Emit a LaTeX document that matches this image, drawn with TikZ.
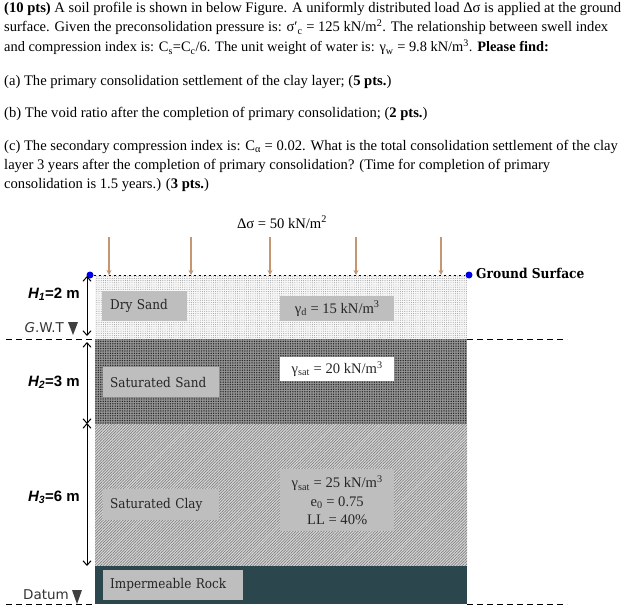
\documentclass[tikz,border=0pt]{standalone}
\usepackage{fontspec}
\usepackage{tikz}
\usetikzlibrary{arrows.meta,patterns.meta}
\setmainfont{Liberation Serif}
\newfontfamily\labelfont{DejaVu Serif Condensed}
\newfontfamily\armfont{Liberation Sans}
\newfontfamily\levelfont{DejaVu Sans}
\definecolor{loadbrown}{RGB}{198,150,112}
\definecolor{rockteal}{RGB}{44,70,77}
\definecolor{boxgray}{RGB}{190,190,190}
\definecolor{surfblue}{RGB}{0,0,230}
\tikzset{
    question/.style={anchor=base west, inner sep=0pt, font=\fontsize{14.6}{17}\selectfont},
    layerbox/.style={anchor=north west, fill=boxgray, inner sep=0pt, text=black!85},
    soilname/.style={layerbox, align=left, font=\labelfont\fontsize{13.4}{16}\selectfont},
    soilprop/.style={layerbox, align=center, font=\fontsize{14.6}{18.2}\selectfont},
    armlabel/.style={anchor=base east, inner sep=0pt, font=\armfont\bfseries\fontsize{15}{17}\selectfont},
    levellabel/.style={anchor=base east, inner sep=0pt, font=\levelfont\fontsize{13.5}{15}\selectfont, text=black!80},
    levelmark/.style={fill=black!75, draw=none},
    levelline/.style={thick, dash pattern=on 6pt off 4pt},
    loadarrow/.style={line width=1.6pt, color=loadbrown, -{Stealth[length=5pt,width=5pt]}},
    dimarrow/.style={line width=1pt, {Straight Barb[length=4.5pt,width=8pt]}-{Straight Barb[length=4.5pt,width=8pt]}},
    surfdot/.style={circle, fill=surfblue, inner sep=0pt, minimum size=7pt}
}
\begin{document}
\begin{tikzpicture}[x=1pt,y=-1pt]
    \useasboundingbox (0,0) rectangle (632,615);

    % Question text
    \node[question] (line1) at (4,13) {\textbf{(10 pts)} A soil profile is shown in below Figure. A uniformly distributed load Δσ is applied at the ground};
    \node[question, font=\fontsize{14.55}{17}\selectfont] (line2) at (4,32) {surface. Given the preconsolidation pressure is: σ′\textsubscript{c} = 125 kN/m\textsuperscript{2}. The relationship between swell index};
    \node[question, font=\fontsize{14.4}{17}\selectfont] (line3) at (4,52) {and compression index is: C\textsubscript{s}=C\textsubscript{c}/6. The unit weight of water is: γ\textsubscript{w} = 9.8 kN/m\textsuperscript{3}. \textbf{Please find:}};
    \node[question] (parta) at (4,86) {(a) The primary consolidation settlement of the clay layer; (\textbf{5 pts.})};
    \node[question] (partb) at (4,118) {(b) The void ratio after the completion of primary consolidation; (\textbf{2 pts.})};
    \node[question] (partc) at (4,150) {(c) The secondary compression index is: C\textsubscript{α} = 0.02. What is the total consolidation settlement of the clay};
    \node[question] (partc2) at (4,169) {layer 3 years after the completion of primary consolidation? (Time for completion of primary};
    \node[question] (partc3) at (4,189) {consolidation is 1.5 years.) (\textbf{3 pts.})};

    % Soil layers
    \fill[black!3] (95,275) rectangle (467,339);
    \fill[pattern={Dots[distance=2.2pt,radius=0.45pt]}, pattern color=black!45] (95,275) rectangle (467,339);
    \fill[black!42] (95,339) rectangle (467,424);
    \fill[pattern={Dots[distance=2.4pt,radius=0.75pt]}, pattern color=black!85] (95,339) rectangle (467,424);
    \fill[black!15] (95,424) rectangle (467,566);
    \fill[pattern={Lines[angle=45,distance=2pt,line width=0.7pt]}, pattern color=black!50] (95,424) rectangle (467,566);
    \fill[rockteal] (95,566) rectangle (467,604);

    % Load
    \node[anchor=base, inner sep=0pt, font=\fontsize{14.6}{17}\selectfont] (load) at (282,228) {Δσ = 50 kN/m\textsuperscript{2}};
    \foreach \px in {109,191,270,356,441}
        \draw[loadarrow] (\px,237) -- (\px,275);

    % Ground surface
    \node[surfdot] (gsleft) at (90,275) {};
    \node[surfdot] (gsright) at (469,275) {};
    \draw[line width=1pt, dash pattern=on 2.5pt off 2.5pt] (gsleft) -- (gsright);
    \node[anchor=base west, inner sep=0pt, font=\labelfont\bfseries\fontsize{13.6}{15}\selectfont] (gslabel) at (476,278) {Ground Surface};

    % Level lines
    \coordinate (gwtleft) at (6,339);
    \coordinate (gwtmid) at (95,339);
    \coordinate (gwtend) at (467,339);
    \coordinate (gwtright) at (567,339);
    \coordinate (datumleft) at (6,604);
    \coordinate (datummid) at (95,604);
    \coordinate (datumend) at (467,604);
    \coordinate (datumright) at (567,604);
    \draw[levelline] (gwtleft) -- (gwtmid);
    \draw[levelline] (gwtend) -- (gwtright);
    \draw[levelline] (datumleft) -- (datummid);
    \draw[levelline] (datumend) -- (datumright);

    % Thickness arrows
    \coordinate (h1top) at (87,276);
    \coordinate (h1bot) at (87,336);
    \coordinate (h2top) at (87,342);
    \coordinate (h2bot) at (87,424);
    \coordinate (h3top) at (87,423);
    \coordinate (h3bot) at (87,566);
    \draw[dimarrow] (h1top) -- (h1bot);
    \draw[dimarrow] (h2top) -- (h2bot);
    \draw[dimarrow] (h3top) -- (h3bot);

    % Thickness labels
    \node[armlabel] (h1) at (80,298) {\textit{H\textsubscript{1}}=2 m};
    \node[armlabel] (h2) at (80,386) {\textit{H\textsubscript{2}}=3 m};
    \node[armlabel] (h3) at (80,501) {\textit{H\textsubscript{3}}=6 m};

    % Water table and datum marks
    \node[levellabel] (gwt) at (64,332) {\textit{G}.W.T};
    \fill[levelmark] (68,322) -- (78,322) -- (73,335) -- cycle;
    \node[levellabel] (datum) at (69,599) {Datum};
    \fill[levelmark] (72,590) -- (82,590) -- (77,604) -- cycle;

    % Soil names
    \node[soilname, minimum width=77pt, minimum height=30pt, text width=69pt, inner xsep=8pt] (drysand) at (102,291) {Dry Sand};
    \node[soilname, minimum width=116pt, minimum height=30pt, text width=108pt] (satsand) at (103,367) {\hspace*{3pt}Saturated Sand};
    \node[soilname, minimum width=116pt, minimum height=31pt, text width=108pt] (satclay) at (103,489) {\hspace*{3pt}Saturated Clay};
    \node[soilname, minimum width=140pt, minimum height=30pt, text width=132pt] (rock) at (103,570) {\hspace*{3pt}Impermeable Rock};

    % Soil properties
    \node[soilprop, minimum width=114pt, minimum height=25pt] (gammad) at (280,296) {γ\textsubscript{d} = 15 kN/m\textsuperscript{3}};
    \node[soilprop, fill=white, minimum width=114pt, minimum height=24pt] (gammasand) at (280,357) {γ\textsubscript{sat} = 20 kN/m\textsuperscript{3}};
    \node[soilprop, minimum width=114pt, minimum height=62pt] (clayprops) at (280,469) {γ\textsubscript{sat} = 25 kN/m\textsuperscript{3}\\e\textsubscript{0} = 0.75\\LL = 40\%};
\end{tikzpicture}
\end{document}
